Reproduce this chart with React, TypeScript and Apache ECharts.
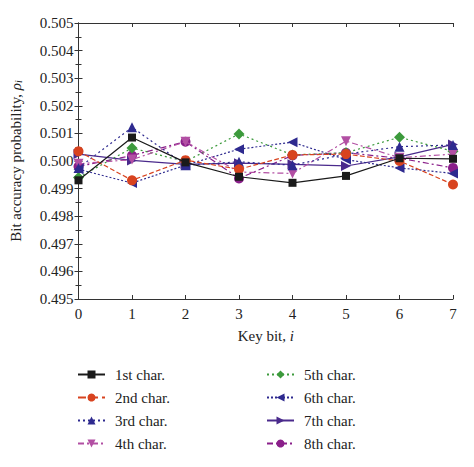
import React, { useEffect, useRef } from "react";
import * as echarts from "echarts";

const keyBits = ["0", "1", "2", "3", "4", "5", "6", "7"];
const seriesNames = ["1st char.", "2nd char.", "3rd char.", "4th char.", "5th char.", "6th char.", "7th char.", "8th char."];
const s1 = [0.4993, 0.50085, 0.49995, 0.49943, 0.49921, 0.49946, 0.5001, 0.50008];
const s2 = [0.50035, 0.4993, 0.50003, 0.4997, 0.50022, 0.50025, 0.5, 0.49915];
const s3 = [0.49975, 0.50122, 0.49985, 0.49997, 0.49985, 0.50025, 0.50052, 0.50058];
const s4 = [0.4999, 0.50005, 0.5007, 0.4996, 0.49955, 0.50072, 0.50012, 0.50025];
const s5 = [0.4994, 0.50047, 0.49998, 0.50098, 0.50022, 0.5003, 0.50086, 0.50035];
const s6 = [0.4997, 0.4992, 0.49985, 0.50043, 0.50068, 0.50005, 0.49975, 0.49955];
const s7 = [0.50025, 0.50002, 0.49988, 0.49992, 0.49988, 0.49982, 0.50015, 0.5006];
const s8 = [0.4998, 0.5002, 0.5007, 0.49937, 0.5002, 0.5003, 0.5001, 0.49975];
const yTicks = [0.495, 0.496, 0.497, 0.498, 0.499, 0.5, 0.501, 0.502, 0.503, 0.504, 0.505];

const allData = [s1, s2, s3, s4, s5, s6, s7, s8];
const colors = ["#1a1a1a", "#d8431f", "#2e2a8f", "#b24fa3", "#3c9a3c", "#2e2a8f", "#4a2a8c", "#8a1f8a"];
const lineTypes: any[] = ["solid", "dashed", [2, 3], [6, 3, 2, 3], [2, 3], [2, 2], "solid", [6, 3, 2, 3]];
const symbols = ["rect", "circle", "triangle", "triangle", "diamond", "triangle", "triangle", "circle"];
const rotations = [0, 0, 0, 180, 0, 90, -90, 0];
const sizes = [8, 10, 10, 10, 11, 10, 10, 10];

const FONT = "Liberation Serif";

export default function App() {
  const ref = useRef<HTMLDivElement>(null);
  useEffect(() => {
    const chart = echarts.init(ref.current!, null, { renderer: "svg" });
    const series = allData.map((d, i) => ({
      name: seriesNames[i],
      type: "line",
      data: d.map((v, j) => [Number(keyBits[j]), v]),
      symbol: symbols[i],
      symbolRotate: rotations[i],
      symbolSize: sizes[i],
      color: colors[i],
      lineStyle: { color: colors[i], width: 1.2, type: lineTypes[i] },
      itemStyle: { color: colors[i] },
      z: 10 - i,
    }));
    const axisCommon = {
      axisLine: { show: true, lineStyle: { color: "#333", width: 1 } },
      splitLine: { show: false },
    };
    const legendCommon = {
      orient: "vertical",
      top: 362,
      itemWidth: 27,
      itemHeight: 10,
      itemGap: 8,
      textStyle: { fontFamily: FONT, fontSize: 15, color: "#222", padding: [0, 0, 0, 5] },
    };
    chart.setOption({
      animation: false,
      backgroundColor: "#fff",
      grid: { left: 76, right: 21, top: 23, bottom: 168 },
      xAxis: [
        {
          ...axisCommon,
          type: "value",
          min: 0,
          max: 7,
          interval: 1,
          axisTick: { show: true, inside: true, length: 4, lineStyle: { color: "#333" } },
          axisLabel: { color: "#222", fontFamily: FONT, fontSize: 15, margin: 7 },
          name: "{n|Key bit, }{i|i}",
          nameLocation: "middle",
          nameGap: 29,
          nameTextStyle: {
            rich: {
              n: { fontFamily: FONT, fontSize: 15, color: "#222" },
              i: { fontFamily: FONT, fontSize: 15, color: "#222", fontStyle: "italic" },
            },
          },
        },
        {
          ...axisCommon,
          type: "value",
          position: "top",
          min: 0,
          max: 7,
          interval: 1,
          axisTick: { show: true, inside: true, length: 4, lineStyle: { color: "#333" } },
          axisLabel: { show: false },
        },
      ],
      yAxis: [
        {
          ...axisCommon,
          type: "value",
          min: 0.495,
          max: 0.505,
          interval: 0.001,
          axisTick: { show: true, inside: true, length: 4, lineStyle: { color: "#333" } },
          minorTick: { show: true, splitNumber: 2, length: 3, lineStyle: { color: "#333" } },
          axisLabel: {
            color: "#222",
            fontFamily: FONT,
            fontSize: 15,
            margin: 5,
            formatter: (v: number) => {
              const t = yTicks.find((x) => Math.abs(x - v) < 1e-9);
              return (t !== undefined ? t : v).toFixed(3);
            },
          },
          name: "{n|Bit accuracy probability, }{r|ρ}{s|i}",
          nameLocation: "middle",
          nameGap: 55,
          nameTextStyle: {
            rich: {
              n: { fontFamily: FONT, fontSize: 15, color: "#222" },
              r: { fontFamily: FONT, fontSize: 15, color: "#222", fontStyle: "italic" },
              s: { fontFamily: FONT, fontSize: 10, color: "#222", fontStyle: "italic", verticalAlign: "bottom", padding: [6, 0, 0, 0] },
            },
          },
        },
        {
          ...axisCommon,
          type: "value",
          position: "right",
          min: 0.495,
          max: 0.505,
          interval: 0.001,
          axisTick: { show: true, inside: true, length: 4, lineStyle: { color: "#333" } },
          minorTick: { show: true, splitNumber: 2, length: 3, lineStyle: { color: "#333" } },
          axisLabel: { show: false },
        },
      ],
      legend: [
        { ...legendCommon, data: seriesNames.slice(0, 4), left: 72 },
        { ...legendCommon, data: seriesNames.slice(4), left: 261 },
      ],
      series,
    });
    return () => chart.dispose();
  }, []);
  return <div ref={ref} style={{ width: 474, height: 467, position: "absolute", left: 0, top: 0 }} />;
}
